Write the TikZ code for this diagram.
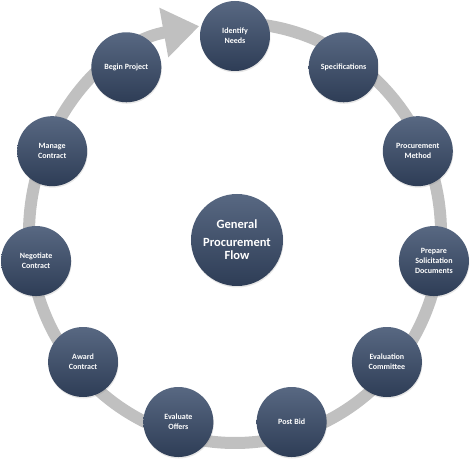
\documentclass[tikz,border=0pt]{standalone}
\usepackage{fontspec}
\setmainfont{Carlito}
\usepackage{tikz}
\usetikzlibrary{arrows.meta, shadows}
\definecolor{stepdark}{RGB}{46,61,86}
\definecolor{steplight}{RGB}{88,104,130}
\definecolor{ringgray}{RGB}{192,192,192}

\begin{document}
\begin{tikzpicture}[x=1pt, y=1pt,
    stepnode/.style={circle, minimum size=70pt, inner sep=1pt, align=center,
      top color=steplight, bottom color=stepdark, draw=none,
      drop shadow={opacity=0.2, shadow xshift=0.5pt, shadow yshift=-1.5pt},
      text=white, font=\fontsize{8}{10}\selectfont\bfseries},
    hub/.style={stepnode, minimum size=92pt,
      font=\fontsize{12.5}{13}\selectfont\bfseries},
    ring/.style={ringgray, line width=12pt,
      -{Triangle[length=36pt, width=48pt]}}]
  \useasboundingbox (-235,-237) rectangle (239,233);
  \draw[ring] (90:206 and 210) arc[start angle=90, end angle=-260,
    x radius=206, y radius=210];
  \foreach \l [count=\i] in {
      Identify\\Needs, Specifications, Procurement\\Method,
      Prepare\\Solicitation\\Documents, Evaluation\\Committee, Post Bid,
      Evaluate\\Offers, Award\\Contract, Negotiate\\Contract,
      Manage\\Contract, Begin Project} {
    \node[stepnode] (s\i) at ({90-(\i-1)*360/11}:201 and 197) {\l};
  }
  \node[hub] (flow) at (2,-7) {General\\[5pt]Procurement\\Flow};
\end{tikzpicture}
\end{document}
